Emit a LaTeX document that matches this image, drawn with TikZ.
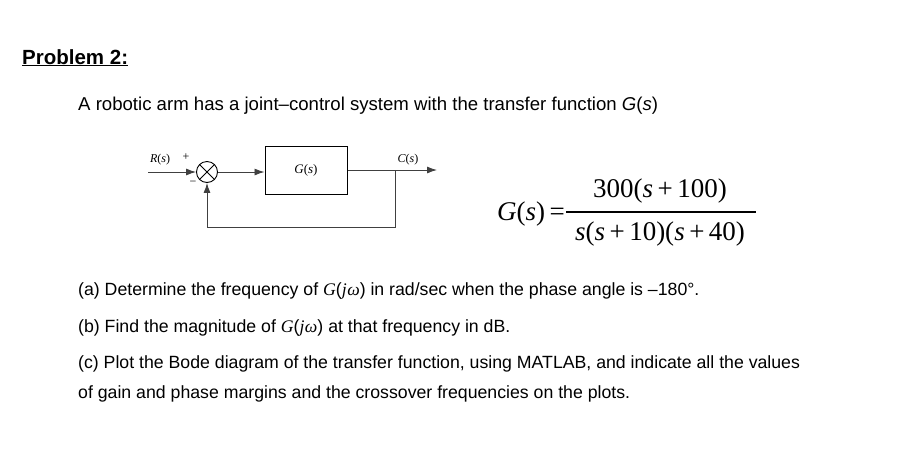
\documentclass[tikz,border=0pt]{standalone}
\usepackage{fontspec}
\setmainfont{Liberation Sans}
\newfontfamily\tms{Liberation Serif}
\usetikzlibrary{arrows.meta}
\newcommand{\Gj}{{\tms\itshape G}({\tms\itshape j\kern0.5pt ω})}
\begin{document}
\begin{tikzpicture}[x=1pt,y=-1pt,
  txt/.style={anchor=base west,inner sep=0pt,font=\fontsize{17.7}{20}\selectfont},
  sig/.style={draw=black!75,line width=0.9pt},
  arr/.style={sig,-{Latex[length=10pt,width=7pt]}},
  lbl/.style={inner sep=0pt,font=\tms\fontsize{12}{13}\selectfont}]
\useasboundingbox (0,0) rectangle (899,448);
\node[txt,font=\bfseries\fontsize{20.5}{24}\selectfont] (t) at (22,64) {\underline{Problem 2:}};
\node[txt,font=\fontsize{18.6}{21}\selectfont] (l1) at (78,110) {A robotic arm has a joint–control system with the transfer function {\itshape G}({\itshape s})};
% block diagram
\node[circle,draw,line width=0.9pt,minimum size=21pt,inner sep=0pt] (sum) at (207,172) {};
\draw[line width=0.8pt] (sum.north west)--(sum.south east) (sum.north east)--(sum.south west);
\node[draw,line width=1pt,minimum width=82pt,minimum height=48pt,font=\tms\fontsize{13}{15}\selectfont] (g) at (306,170) {\itshape G\upshape(\itshape s\upshape)};
\coordinate (in) at (148,172);
\coordinate (br) at (395,170);
\coordinate (out) at (437,170);
\coordinate (bl) at (207,227);
\coordinate (brr) at (395,227);
\draw[arr] (in)--(sum.west);
\draw[arr] (sum.east)--(g.west|-sum);
\draw[arr] (g.east)--(out);
\draw[arr] (br)--(brr)--(bl)--(sum.south);
\node[lbl] (rs) at (160,160) {\itshape R\upshape(\itshape s\upshape)};
\node[lbl] (pl) at (186,157) {+};
\node[lbl] (mi) at (193,183) {−};
\node[lbl] (cs) at (408,160) {\itshape C\upshape(\itshape s\upshape)};
% formula
\node[anchor=base east,inner sep=0pt,font=\tms\fontsize{27}{30}\selectfont] (gs) at (565,220) {\itshape G\upshape(\itshape s\upshape)\,=};
\node[inner sep=0pt,font=\tms\fontsize{27}{30}\selectfont] (num) at (660,191) {300(\itshape s\upshape\,+\,100)};
\node[inner sep=0pt,font=\tms\fontsize{27}{30}\selectfont] (den) at (660,234) {\itshape s\upshape(\itshape s\upshape\,+\,10)(\itshape s\upshape\,+\,40)};
\draw[line width=1.1pt] (566,212)--(756,212);
% items
\node[txt] (a) at (78,295) {(a) Determine the frequency of \Gj\ in rad/sec when the phase angle is –180°.};
\node[txt] (b) at (78,332) {(b) Find the magnitude of \Gj\ at that frequency in dB.};
\node[txt] (c) at (78,368) {(c) Plot the Bode diagram of the transfer function, using MATLAB, and indicate all the values};
\node[txt] (c2) at (78,398) {of gain and phase margins and the crossover frequencies on the plots.};
\end{tikzpicture}
\end{document}
